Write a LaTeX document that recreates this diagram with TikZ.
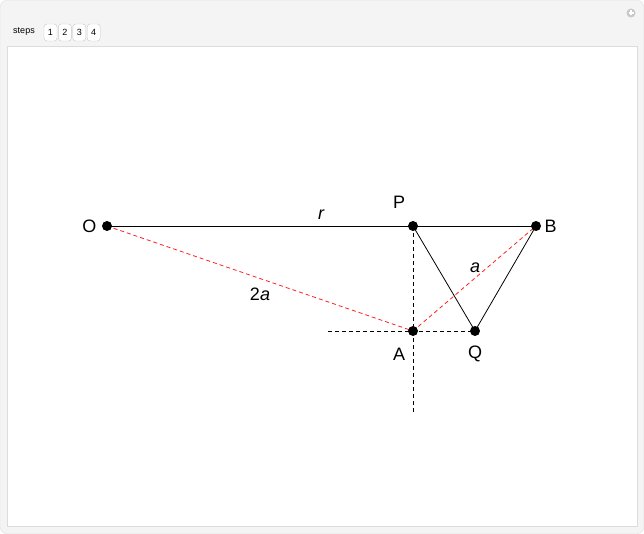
\documentclass[tikz,border=0pt]{standalone}
\usepackage{fontspec}
\setmainfont{Liberation Sans}
\usepackage{tikz}
\usetikzlibrary{positioning}
\definecolor{panelgray}{HTML}{F4F4F4}
\definecolor{paneledge}{HTML}{DCDCDC}
\definecolor{buttonedge}{HTML}{C8C8C8}
\definecolor{dashred}{HTML}{FF2020}

\tikzset{
    dot/.style={circle, fill=black, inner sep=0pt, minimum size=10pt},
    ptlabel/.style={font=\fontsize{18}{18}\selectfont},
    stepbutton/.style={draw=buttonedge, fill=white, rounded corners=3pt, minimum width=13pt, minimum height=17pt, inner sep=0pt, font=\fontsize{9}{9}\selectfont},
    reddash/.style={dash pattern=on 4pt off 3pt, dashred, line width=0.8pt},
    blackdash/.style={dash pattern=on 4pt off 3pt, black, line width=0.7pt},
}

\begin{document}
\begin{tikzpicture}[x=1pt, y=-1pt]
    \useasboundingbox (0,0) rectangle (644,534);

    % Panel
    \fill[panelgray, draw=paneledge, rounded corners=6pt] (0.5,0.5) rectangle (643.5,533.5);
    \fill[white, draw=paneledge, line width=1pt] (7,47) rectangle (637,526);

    % Controls
    \node[font=\fontsize{9}{9}\selectfont] (steps) at (24,32) {steps};
    \node[stepbutton] (b1) at (50.5,32.5) {1};
    \node[stepbutton, right=1pt of b1] (b2) {2};
    \node[stepbutton, right=1pt of b2] (b3) {3};
    \node[stepbutton, right=1pt of b3] (b4) {4};
    \node[circle, fill=buttonedge, minimum size=9pt, inner sep=0pt] (plus) at (631,13) {};
    \draw[white, line width=1.3pt] ([xshift=-2.5pt]plus.center) -- ([xshift=2.5pt]plus.center);
    \draw[white, line width=1.3pt] ([yshift=-2.5pt]plus.center) -- ([yshift=2.5pt]plus.center);

    % Points
    \coordinate (O) at (107,226);
    \coordinate (P) at (413,226);
    \coordinate (B) at (536,226);
    \coordinate (A) at (413,331);
    \coordinate (Q) at (475,331);
    \coordinate (hleft) at (328,331);
    \coordinate (vlow) at (413,412);

    % Dashed guides
    \draw[blackdash] (hleft) -- (Q);
    \draw[blackdash] (P) -- (vlow);
    \draw[reddash] (O) -- (A);
    \draw[reddash] (A) -- (B);

    % Solid segments
    \draw[line width=0.8pt] (O) -- (B);
    \draw[line width=0.8pt] (P) -- (Q);
    \draw[line width=0.8pt] (Q) -- (B);

    % Dots
    \foreach \p in {O,P,B,A,Q}
        \node[dot] (dot\p) at (\p) {};

    % Labels
    \node[ptlabel, left=2pt of dotO] (lO) {O};
    \node[ptlabel] (lP) at (399,202) {P};
    \node[ptlabel, right=0pt of dotB] (lB) {B};
    \node[ptlabel] (lA) at (399,354) {A};
    \node[ptlabel] (lQ) at (475,354) {Q};
    \node[ptlabel] (lr) at (321,215) {\itshape r};
    \node[ptlabel] (l2a) at (260,294) {2\itshape a};
    \node[ptlabel] (la) at (475,268) {\itshape a};
\end{tikzpicture}
\end{document}
